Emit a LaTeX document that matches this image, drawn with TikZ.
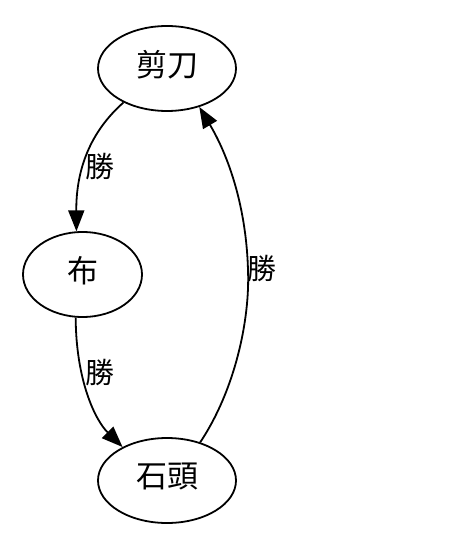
\documentclass[tikz,border=0pt]{standalone}
\usepackage{fontspec}
\newfontfamily\cjk{Noto Sans CJK TC}
\usetikzlibrary{arrows.meta,shapes.geometric}
\newcommand{\uptext}[1]{\raisebox{0pt}[\height][\dimexpr\depth+8pt\relax]{#1}}
\tikzset{
  state/.style={draw, ellipse, line width=1.8pt, inner sep=0pt, font=\cjk\fontsize{31}{33}\selectfont},
  edge/.style={line width=1.8pt, -{Triangle[length=21pt,width=16pt]}},
  lbl/.style={inner sep=0pt, font=\cjk\fontsize{29}{31}\selectfont}
}
\begin{document}
\begin{tikzpicture}[x=1pt,y=-1pt]
\useasboundingbox (0,0) rectangle (468,534);
\node[state, minimum width=138pt, minimum height=85pt] (a) at (167,68.5) {\uptext{剪刀}};
\node[state, minimum width=119pt, minimum height=85pt] (b) at (82.5,274.5) {\uptext{布}};
\node[state, minimum width=138pt, minimum height=85pt] (c) at (167,480.5) {\uptext{石頭}};
\draw[edge] (a.218) .. controls (90,132) and (76,170) .. (b.98);
\draw[edge] (b.261) .. controls (76,380) and (95,420) .. (c.143);
\coordinate (m) at (248,270);
\draw[edge] (c.49) .. controls (235,390) and (250,320) .. (m) .. controls (246,200) and (225,150) .. (a.310);
\node[lbl] (l1) at (100,167) {勝};
\node[lbl] (l2) at (100,373) {勝};
\node[lbl] (l3) at (262,269) {勝};
\end{tikzpicture}
\end{document}
